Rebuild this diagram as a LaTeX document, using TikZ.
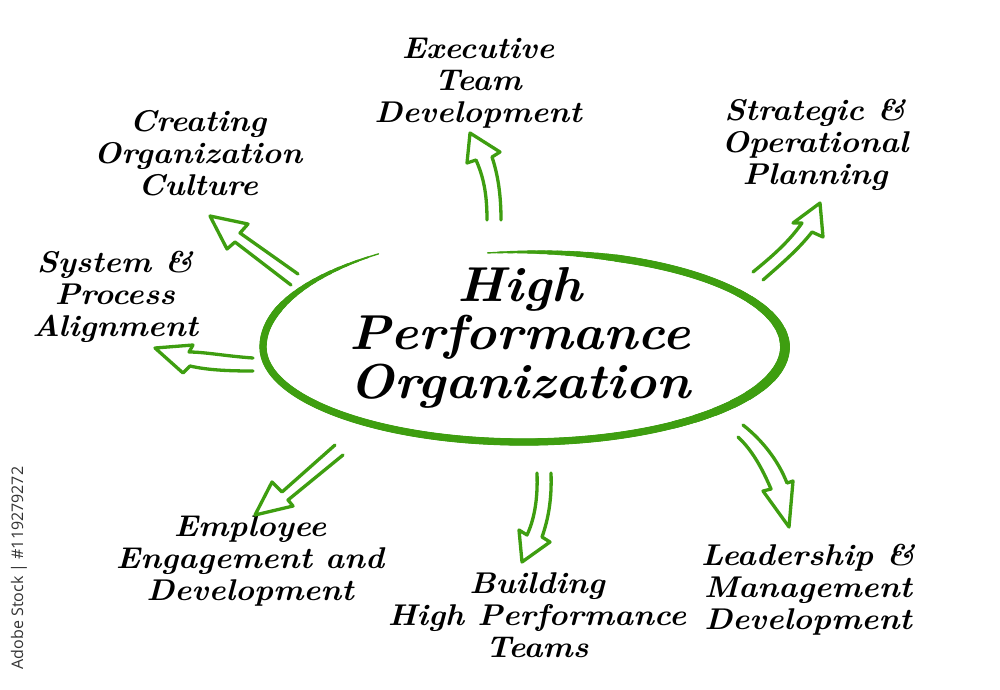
\documentclass[tikz,border=0pt]{standalone}
\usepackage{fontspec}
\usepackage{graphicx}
\newfontfamily\wmfont{Open Sans}
\definecolor{hpgreen}{RGB}{62,158,16}
\newcommand\hwtext[1]{\scalebox{1.07}[1]{\begin{tabular}{@{}c@{}}#1\end{tabular}}}
\begin{document}
\begin{tikzpicture}[x=1pt,y=-1pt,
  lbl/.style={font=\fontsize{30}{32}\selectfont\bfseries\itshape, inner sep=0pt},
  titlelbl/.style={font=\fontsize{49}{47}\selectfont\bfseries\itshape, inner sep=0pt},
  arr/.style={draw=hpgreen, line width=3.3pt, line join=round, line cap=round},
  ring/.style={draw=hpgreen, line cap=round, line join=round}
]
\useasboundingbox[fill=white] (0,0) rectangle (1000,689);

% ellipse stroke, tapered by many overlapping strokes
\coordinate (elc) at (524,347);
\coordinate (spc) at (553,347);
\foreach \k in {0,...,13} {
  \pgfmathsetmacro\w{1.4+0.45*\k}
  \pgfmathsetmacro\a{127+2.6*\k}
  \pgfmathsetmacro\e{458-2.2*\k}
  \path (spc) ++(\a:290pt and 116.6pt) coordinate (st);
  \draw[ring, line width=\w pt] (st)
     arc[start angle=\a, end angle=180, x radius=290pt, y radius=116.6pt]
     arc[start angle=180, end angle=\e, x radius=261pt, y radius=95pt];
}
\foreach \k in {0,...,6} {
  \pgfmathsetmacro\w{7.4+0.4*\k}
  \pgfmathsetmacro\a{-55+6*\k}
  \pgfmathsetmacro\e{35-5*\k}
  \path (elc) ++(\a:261pt and 95pt) coordinate (rs);
  \draw[ring, line width=\w pt] (rs)
     arc[start angle=\a, end angle=\e, x radius=261pt, y radius=95pt];
}

% labels
\node[titlelbl] (hpo) at (520,340) {\hwtext{High\\Performance\\Organization}};
\node[lbl] (exec) at (478,84) {\hwtext{Executive\\Team\\Development}};
\node[lbl] (culture) at (198,157) {\hwtext{Creating\\Organization\\Culture}};
\node[lbl] (strat) at (815,146) {\hwtext{Strategic \&\\Operational\\Planning}};
\node[lbl] (system) at (115,298) {\hwtext{System \&\\Process\\Alignment}};
\node[lbl] (employee) at (250,562) {\hwtext{Employee\\Engagement and\\Development}};
\node[lbl] (teams) at (537,619) {\hwtext{Building\\High Performance\\Teams}};
\node[lbl] (leader) at (808,591) {\hwtext{Leadership \&\\Management\\Development}};

% arrows
\draw[arr] (487,220) .. controls (487,192) and (483,176) .. (476,160) -- (467,163) -- (470,133) -- (500,152) -- (492,157) .. controls (498,175) and (501,195) .. (501,220);
\draw[arr] (298,274) -- (240,233) -- (248,224) -- (210,216) -- (227,249) -- (235,242) -- (291,285);
\draw[arr] (253,358) .. controls (225,356) and (205,352) .. (189,352) -- (193,345) -- (155,348) -- (183,373) -- (190,366) .. controls (207,370) and (228,371) .. (253,371);
\draw[arr] (335,445) -- (282,492) -- (272,482) -- (255,515) -- (293,506) -- (288,500) -- (343,455);
\draw[arr] (537,473) .. controls (538,500) and (534,520) .. (527,535) -- (519,530) -- (522,562) -- (550,542) -- (542,537) .. controls (548,520) and (552,500) .. (551,473);
\draw[arr] (743,425) .. controls (762,440) and (778,460) .. (787,483) -- (793,481) -- (789,527) -- (763,491) -- (771,489) .. controls (762,468) and (752,450) .. (738,437);
\draw[arr] (753,272) .. controls (770,258) and (788,243) .. (802,223) -- (793,223) -- (820,203) -- (823,237) -- (812,232) .. controls (798,250) and (780,265) .. (763,280);

% stock mark
\node[font=\wmfont\fontsize{16}{16}\selectfont, text=black!80, rotate=90, inner sep=0pt] (stock) at (19,568) {Adobe Stock | \#119279272};
\end{tikzpicture}
\end{document}
